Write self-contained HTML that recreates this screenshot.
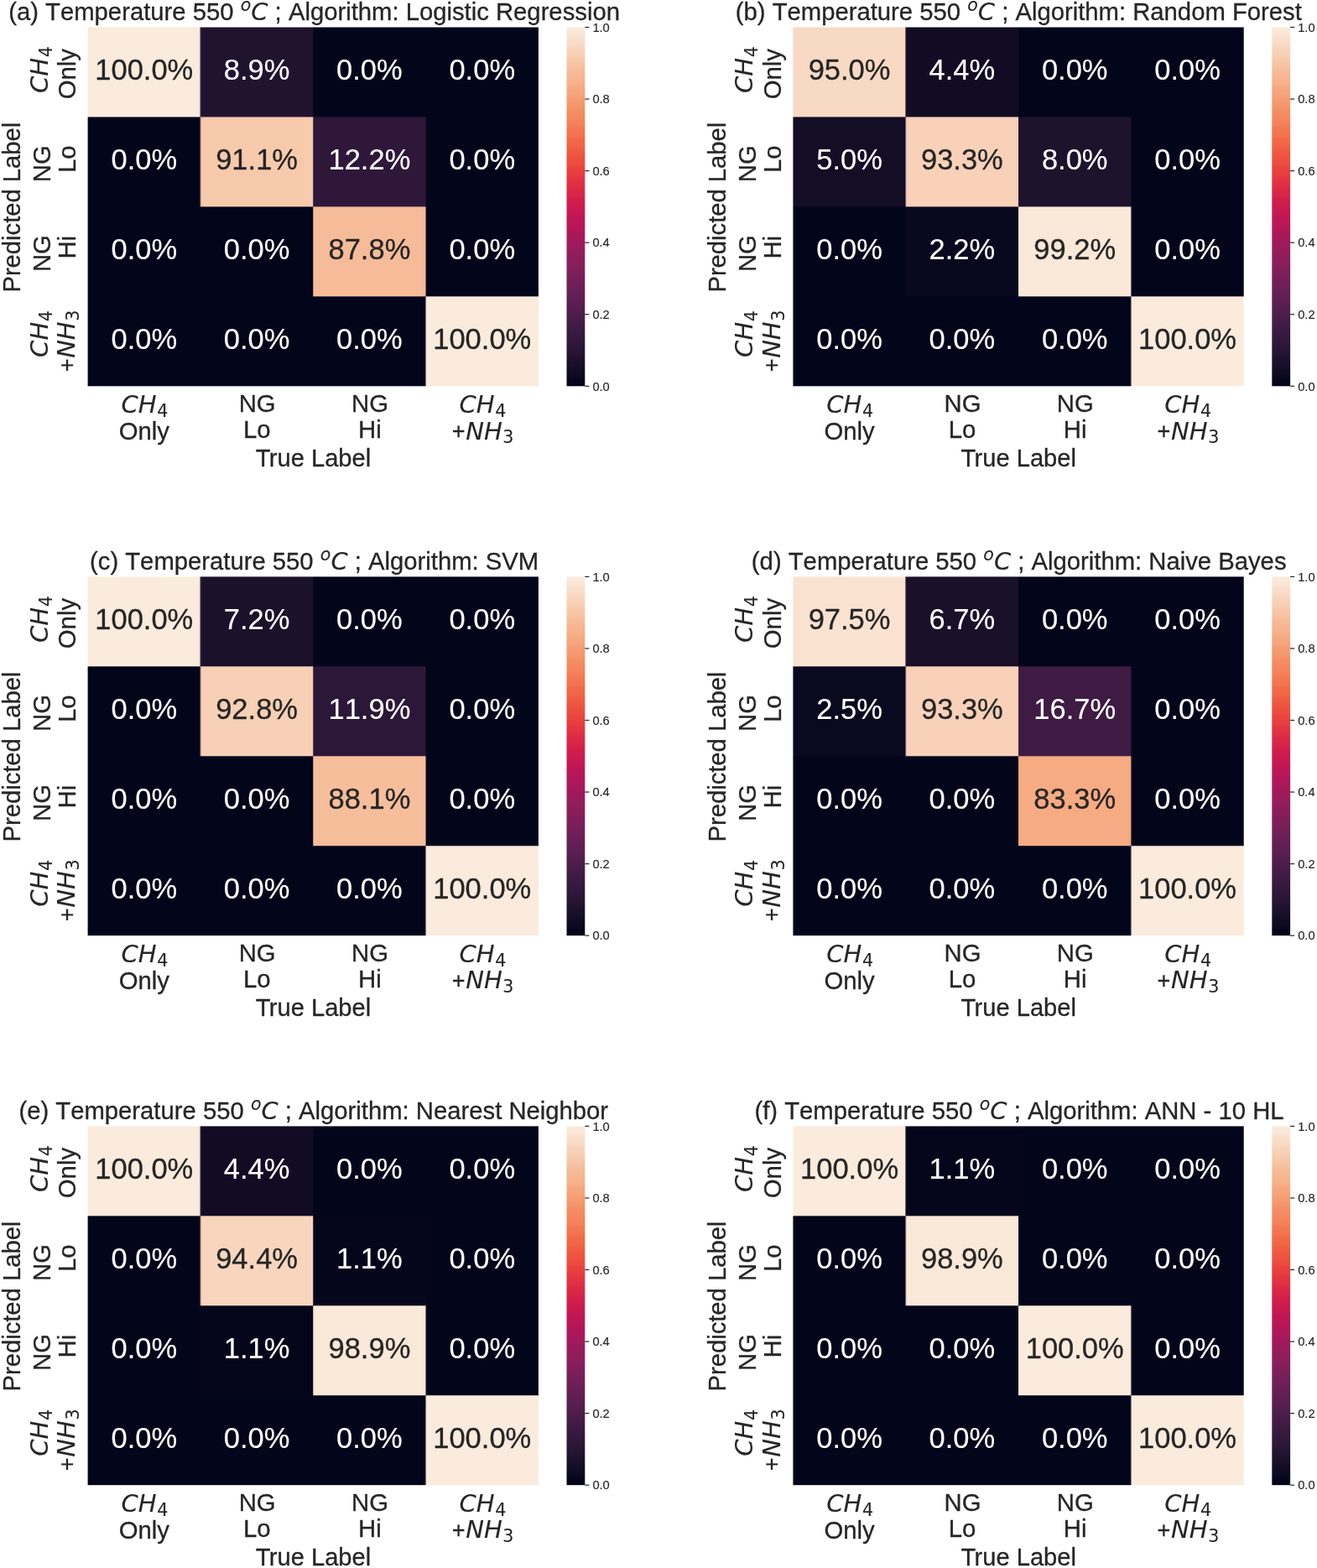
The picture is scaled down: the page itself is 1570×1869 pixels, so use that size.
<!DOCTYPE html>
<html lang="en"><head><meta charset="utf-8"><title>Confusion matrices - Temperature 550 C</title>
<style>
html,body{margin:0;padding:0;background:#fff}
body{width:1570px;height:1869px;overflow:hidden}
svg{display:block}
text{fill:#262626;stroke:#262626;stroke-width:0.3px;stroke-linejoin:round;white-space:pre;font-kerning:none}
.w{fill:#fff;stroke:#fff;stroke-width:0.12px}
.t{stroke-width:0.15px}
.mi,.mr{stroke-width:0.1px}
.a{font-family:"Liberation Sans",Arial,Helvetica,sans-serif}
.mi{font-family:"DejaVu Sans","Liberation Sans",sans-serif;font-style:italic}
.mr{font-family:"DejaVu Sans","Liberation Sans",sans-serif}
</style></head><body>
<svg width="1570" height="1869" viewBox="0 0 1570 1869" xml:space="preserve">
<rect width="1570" height="1869" fill="#ffffff"/>
<defs><linearGradient id="rk" x1="0" y1="0" x2="0" y2="1"><stop offset="0" stop-color="#faebdd"/><stop offset="0.02" stop-color="#fae6d6"/><stop offset="0.03" stop-color="#f9e0cd"/><stop offset="0.05" stop-color="#f8dac5"/><stop offset="0.06" stop-color="#f8d4bc"/><stop offset="0.08" stop-color="#f7cfb3"/><stop offset="0.09" stop-color="#f7c9aa"/><stop offset="0.11" stop-color="#f7c2a2"/><stop offset="0.12" stop-color="#f6bc99"/><stop offset="0.14" stop-color="#f6b691"/><stop offset="0.16" stop-color="#f6b089"/><stop offset="0.17" stop-color="#f6a981"/><stop offset="0.19" stop-color="#f6a37a"/><stop offset="0.2" stop-color="#f69c73"/><stop offset="0.22" stop-color="#f5966c"/><stop offset="0.23" stop-color="#f58f66"/><stop offset="0.25" stop-color="#f58860"/><stop offset="0.27" stop-color="#f4815a"/><stop offset="0.28" stop-color="#f47a54"/><stop offset="0.3" stop-color="#f3734e"/><stop offset="0.31" stop-color="#f26b49"/><stop offset="0.33" stop-color="#f16445"/><stop offset="0.34" stop-color="#f05c42"/><stop offset="0.36" stop-color="#ee543f"/><stop offset="0.38" stop-color="#ec4c3e"/><stop offset="0.39" stop-color="#ea443e"/><stop offset="0.41" stop-color="#e73d3f"/><stop offset="0.42" stop-color="#e33641"/><stop offset="0.44" stop-color="#df2f44"/><stop offset="0.45" stop-color="#db2946"/><stop offset="0.47" stop-color="#d62449"/><stop offset="0.48" stop-color="#d11f4c"/><stop offset="0.5" stop-color="#cb1b4f"/><stop offset="0.52" stop-color="#c51852"/><stop offset="0.53" stop-color="#bf1654"/><stop offset="0.55" stop-color="#b91657"/><stop offset="0.56" stop-color="#b21758"/><stop offset="0.58" stop-color="#ab185a"/><stop offset="0.59" stop-color="#a4195b"/><stop offset="0.61" stop-color="#9e1a5b"/><stop offset="0.62" stop-color="#971c5b"/><stop offset="0.64" stop-color="#901d5b"/><stop offset="0.66" stop-color="#891e5b"/><stop offset="0.67" stop-color="#821e5a"/><stop offset="0.69" stop-color="#7b1f59"/><stop offset="0.7" stop-color="#751f58"/><stop offset="0.72" stop-color="#6e1f57"/><stop offset="0.73" stop-color="#681f55"/><stop offset="0.75" stop-color="#611f53"/><stop offset="0.77" stop-color="#5b1e51"/><stop offset="0.78" stop-color="#541e4e"/><stop offset="0.8" stop-color="#4e1d4b"/><stop offset="0.81" stop-color="#481c48"/><stop offset="0.83" stop-color="#421b45"/><stop offset="0.84" stop-color="#3c1a42"/><stop offset="0.86" stop-color="#35193e"/><stop offset="0.88" stop-color="#30173a"/><stop offset="0.89" stop-color="#2a1636"/><stop offset="0.91" stop-color="#241432"/><stop offset="0.92" stop-color="#1e122d"/><stop offset="0.94" stop-color="#180f29"/><stop offset="0.95" stop-color="#130d25"/><stop offset="0.97" stop-color="#0d0a21"/><stop offset="0.98" stop-color="#07071d"/><stop offset="1" stop-color="#03051a"/></linearGradient></defs>
<g><pattern id="p1" patternUnits="userSpaceOnUse" x="96.6" y="24.5" width="553.3" height="443.8"><rect width="553.3" height="443.8" fill="#03051a"/><rect x="0" y="0" width="142.32" height="114.95" fill="#faebdd"/><rect x="142.32" y="0" width="134.32" height="114.95" fill="#211330"/><rect x="142.32" y="114.95" width="134.32" height="106.95" fill="#f7caac"/><rect x="276.65" y="114.95" width="134.32" height="106.95" fill="#2e1739"/><rect x="276.65" y="221.9" width="134.32" height="106.95" fill="#f6bc99"/><rect x="410.97" y="328.85" width="142.32" height="114.95" fill="#faebdd"/></pattern><rect x="104.6" y="32.5" width="537.3" height="427.8" fill="url(#p1)"/><text class="a" text-anchor="middle" transform="translate(171.76 94.97) scale(1.0 1.04)" font-size="34.5">100.0%</text><text class="a w" text-anchor="middle" transform="translate(306.09 94.97) scale(1.0 1.04)" font-size="34.5">8.9%</text><text class="a w" text-anchor="middle" transform="translate(440.41 94.97) scale(1.0 1.04)" font-size="34.5">0.0%</text><text class="a w" text-anchor="middle" transform="translate(574.74 94.97) scale(1.0 1.04)" font-size="34.5">0.0%</text><text class="a w" text-anchor="middle" transform="translate(171.76 201.93) scale(1.0 1.04)" font-size="34.5">0.0%</text><text class="a" text-anchor="middle" transform="translate(306.09 201.93) scale(1.0 1.04)" font-size="34.5">91.1%</text><text class="a w" text-anchor="middle" transform="translate(440.41 201.93) scale(1.0 1.04)" font-size="34.5">12.2%</text><text class="a w" text-anchor="middle" transform="translate(574.74 201.93) scale(1.0 1.04)" font-size="34.5">0.0%</text><text class="a w" text-anchor="middle" transform="translate(171.76 308.88) scale(1.0 1.04)" font-size="34.5">0.0%</text><text class="a w" text-anchor="middle" transform="translate(306.09 308.88) scale(1.0 1.04)" font-size="34.5">0.0%</text><text class="a" text-anchor="middle" transform="translate(440.41 308.88) scale(1.0 1.04)" font-size="34.5">87.8%</text><text class="a w" text-anchor="middle" transform="translate(574.74 308.88) scale(1.0 1.04)" font-size="34.5">0.0%</text><text class="a w" text-anchor="middle" transform="translate(171.76 415.82) scale(1.0 1.04)" font-size="34.5">0.0%</text><text class="a w" text-anchor="middle" transform="translate(306.09 415.82) scale(1.0 1.04)" font-size="34.5">0.0%</text><text class="a w" text-anchor="middle" transform="translate(440.41 415.82) scale(1.0 1.04)" font-size="34.5">0.0%</text><text class="a" text-anchor="middle" transform="translate(574.74 415.82) scale(1.0 1.04)" font-size="34.5">100.0%</text><rect x="675.5" y="32.5" width="21.8" height="427.8" fill="url(#rk)"/><rect x="697.3" y="459.7" width="5.1" height="1.2" fill="#262626"/><text class="a t" transform="translate(706.4 465.5) scale(1.0 1.04)" font-size="14.67">0.0</text><rect x="697.3" y="374.14" width="5.1" height="1.2" fill="#262626"/><text class="a t" transform="translate(706.4 379.94) scale(1.0 1.04)" font-size="14.67">0.2</text><rect x="697.3" y="288.58" width="5.1" height="1.2" fill="#262626"/><text class="a t" transform="translate(706.4 294.38) scale(1.0 1.04)" font-size="14.67">0.4</text><rect x="697.3" y="203.02" width="5.1" height="1.2" fill="#262626"/><text class="a t" transform="translate(706.4 208.82) scale(1.0 1.04)" font-size="14.67">0.6</text><rect x="697.3" y="117.46" width="5.1" height="1.2" fill="#262626"/><text class="a t" transform="translate(706.4 123.26) scale(1.0 1.04)" font-size="14.67">0.8</text><rect x="697.3" y="31.9" width="5.1" height="1.2" fill="#262626"/><text class="a t" transform="translate(706.4 37.7) scale(1.0 1.04)" font-size="14.67">1.0</text><text transform="translate(10.23 23.9)"><tspan class="a" x="0" y="0" font-size="29.26">(a) Temperature 550 </tspan><tspan class="mi" x="276.47" y="-10.6" font-size="20.57">o</tspan><tspan class="mi" x="289.05" y="0" font-size="28.97">C</tspan><tspan class="a" x="309.28" y="0" font-size="29.26"> ; Algorithm: Logistic Regression</tspan></text><text transform="translate(144.52 492.1)"><tspan class="mi" x="0" y="0" font-size="29.04">CH</tspan><tspan class="mr" x="42.71" y="4.5" font-size="20.62">4</tspan></text><text class="a" x="141.64" y="523.8" font-size="29.33">Only</text><text class="a" transform="translate(284.68 491.4) scale(1 1.03)" font-size="29.33">NG</text><text class="a" x="289.89" y="522.2" font-size="29.33">Lo</text><text class="a" transform="translate(419.01 491.4) scale(1 1.03)" font-size="29.33">NG</text><text class="a" x="427.05" y="522.2" font-size="29.33">Hi</text><text transform="translate(547.49 492.1)"><tspan class="mi" x="0" y="0" font-size="29.04">CH</tspan><tspan class="mr" x="42.71" y="4.5" font-size="20.62">4</tspan></text><text transform="translate(537.48 523.5)"><tspan class="a" x="1.25" y="-0.3" font-size="26.98">+</tspan><tspan class="mi" x="17.73" y="0" font-size="29.04">NH</tspan><tspan class="mr" x="61.88" y="4.5" font-size="20.62">3</tspan></text><text transform="translate(304.64 556.2)"><tspan class="a" x="0" y="0" font-size="29.1">T</tspan><tspan class="a" x="16.18" y="0" font-size="29.1">rue Label</tspan></text><g transform="translate(104.6 85.97) rotate(-90)"><text transform="translate(-25.07 -48)"><tspan class="mi" x="0" y="0" font-size="29.04">CH</tspan><tspan class="mr" x="42.71" y="5.5" font-size="20.62">4</tspan></text><text class="a" x="-32.35" y="-14.6" font-size="29.33">Only</text></g><g transform="translate(104.6 192.93) rotate(-90)"><text class="a" transform="translate(-24.2 -44.4) scale(1 1.03)" font-size="29.33">NG</text><text class="a" x="-13.19" y="-14.6" font-size="29.33">Lo</text></g><g transform="translate(104.6 299.88) rotate(-90)"><text class="a" transform="translate(-24.2 -44.4) scale(1 1.03)" font-size="29.33">NG</text><text class="a" x="-8.72" y="-14.6" font-size="29.33">Hi</text></g><g transform="translate(104.6 406.82) rotate(-90)"><text transform="translate(-19.07 -48)"><tspan class="mi" x="0" y="0" font-size="29.04">CH</tspan><tspan class="mr" x="42.71" y="5.5" font-size="20.62">4</tspan></text><text transform="translate(-37.75 -15.7)"><tspan class="a" x="1.25" y="-0.3" font-size="26.98">+</tspan><tspan class="mi" x="17.73" y="0" font-size="29.04">NH</tspan><tspan class="mr" x="61.88" y="5.5" font-size="20.62">3</tspan></text></g><g transform="translate(104.6 246.9) rotate(-90)"><text class="a" x="-101.68" y="-80.4" font-size="29.2">Predicted Label</text></g></g>
<g><pattern id="p2" patternUnits="userSpaceOnUse" x="937.4" y="24.5" width="553.3" height="443.8"><rect width="553.3" height="443.8" fill="#03051a"/><rect x="0" y="0" width="142.32" height="114.95" fill="#f8d9c3"/><rect x="142.32" y="0" width="134.32" height="114.95" fill="#110c24"/><rect x="0" y="114.95" width="142.32" height="106.95" fill="#130d25"/><rect x="142.32" y="114.95" width="134.32" height="106.95" fill="#f8d1b8"/><rect x="276.65" y="114.95" width="134.32" height="106.95" fill="#1e122d"/><rect x="142.32" y="221.9" width="134.32" height="106.95" fill="#08081e"/><rect x="276.65" y="221.9" width="134.32" height="106.95" fill="#fae8d8"/><rect x="410.97" y="328.85" width="142.32" height="114.95" fill="#faebdd"/></pattern><rect x="945.4" y="32.5" width="537.3" height="427.8" fill="url(#p2)"/><text class="a" text-anchor="middle" transform="translate(1012.56 94.97) scale(1.0 1.04)" font-size="34.5">95.0%</text><text class="a w" text-anchor="middle" transform="translate(1146.89 94.97) scale(1.0 1.04)" font-size="34.5">4.4%</text><text class="a w" text-anchor="middle" transform="translate(1281.21 94.97) scale(1.0 1.04)" font-size="34.5">0.0%</text><text class="a w" text-anchor="middle" transform="translate(1415.54 94.97) scale(1.0 1.04)" font-size="34.5">0.0%</text><text class="a w" text-anchor="middle" transform="translate(1012.56 201.93) scale(1.0 1.04)" font-size="34.5">5.0%</text><text class="a" text-anchor="middle" transform="translate(1146.89 201.93) scale(1.0 1.04)" font-size="34.5">93.3%</text><text class="a w" text-anchor="middle" transform="translate(1281.21 201.93) scale(1.0 1.04)" font-size="34.5">8.0%</text><text class="a w" text-anchor="middle" transform="translate(1415.54 201.93) scale(1.0 1.04)" font-size="34.5">0.0%</text><text class="a w" text-anchor="middle" transform="translate(1012.56 308.88) scale(1.0 1.04)" font-size="34.5">0.0%</text><text class="a w" text-anchor="middle" transform="translate(1146.89 308.88) scale(1.0 1.04)" font-size="34.5">2.2%</text><text class="a" text-anchor="middle" transform="translate(1281.21 308.88) scale(1.0 1.04)" font-size="34.5">99.2%</text><text class="a w" text-anchor="middle" transform="translate(1415.54 308.88) scale(1.0 1.04)" font-size="34.5">0.0%</text><text class="a w" text-anchor="middle" transform="translate(1012.56 415.82) scale(1.0 1.04)" font-size="34.5">0.0%</text><text class="a w" text-anchor="middle" transform="translate(1146.89 415.82) scale(1.0 1.04)" font-size="34.5">0.0%</text><text class="a w" text-anchor="middle" transform="translate(1281.21 415.82) scale(1.0 1.04)" font-size="34.5">0.0%</text><text class="a" text-anchor="middle" transform="translate(1415.54 415.82) scale(1.0 1.04)" font-size="34.5">100.0%</text><rect x="1516.3" y="32.5" width="21.8" height="427.8" fill="url(#rk)"/><rect x="1538.1" y="459.7" width="5.1" height="1.2" fill="#262626"/><text class="a t" transform="translate(1547.2 465.5) scale(1.0 1.04)" font-size="14.67">0.0</text><rect x="1538.1" y="374.14" width="5.1" height="1.2" fill="#262626"/><text class="a t" transform="translate(1547.2 379.94) scale(1.0 1.04)" font-size="14.67">0.2</text><rect x="1538.1" y="288.58" width="5.1" height="1.2" fill="#262626"/><text class="a t" transform="translate(1547.2 294.38) scale(1.0 1.04)" font-size="14.67">0.4</text><rect x="1538.1" y="203.02" width="5.1" height="1.2" fill="#262626"/><text class="a t" transform="translate(1547.2 208.82) scale(1.0 1.04)" font-size="14.67">0.6</text><rect x="1538.1" y="117.46" width="5.1" height="1.2" fill="#262626"/><text class="a t" transform="translate(1547.2 123.26) scale(1.0 1.04)" font-size="14.67">0.8</text><rect x="1538.1" y="31.9" width="5.1" height="1.2" fill="#262626"/><text class="a t" transform="translate(1547.2 37.7) scale(1.0 1.04)" font-size="14.67">1.0</text><text transform="translate(876.77 23.9)"><tspan class="a" x="0" y="0" font-size="29.26">(b) Temperature 550 </tspan><tspan class="mi" x="276.47" y="-10.6" font-size="20.57">o</tspan><tspan class="mi" x="289.05" y="0" font-size="28.97">C</tspan><tspan class="a" x="309.28" y="0" font-size="29.26"> ; Algorithm: Random Forest</tspan></text><text transform="translate(985.32 492.1)"><tspan class="mi" x="0" y="0" font-size="29.04">CH</tspan><tspan class="mr" x="42.71" y="4.5" font-size="20.62">4</tspan></text><text class="a" x="982.44" y="523.8" font-size="29.33">Only</text><text class="a" transform="translate(1125.48 491.4) scale(1 1.03)" font-size="29.33">NG</text><text class="a" x="1130.69" y="522.2" font-size="29.33">Lo</text><text class="a" transform="translate(1259.81 491.4) scale(1 1.03)" font-size="29.33">NG</text><text class="a" x="1267.85" y="522.2" font-size="29.33">Hi</text><text transform="translate(1388.29 492.1)"><tspan class="mi" x="0" y="0" font-size="29.04">CH</tspan><tspan class="mr" x="42.71" y="4.5" font-size="20.62">4</tspan></text><text transform="translate(1378.28 523.5)"><tspan class="a" x="1.25" y="-0.3" font-size="26.98">+</tspan><tspan class="mi" x="17.73" y="0" font-size="29.04">NH</tspan><tspan class="mr" x="61.88" y="4.5" font-size="20.62">3</tspan></text><text transform="translate(1145.44 556.2)"><tspan class="a" x="0" y="0" font-size="29.1">T</tspan><tspan class="a" x="16.18" y="0" font-size="29.1">rue Label</tspan></text><g transform="translate(945.4 85.97) rotate(-90)"><text transform="translate(-25.07 -48)"><tspan class="mi" x="0" y="0" font-size="29.04">CH</tspan><tspan class="mr" x="42.71" y="5.5" font-size="20.62">4</tspan></text><text class="a" x="-32.35" y="-14.6" font-size="29.33">Only</text></g><g transform="translate(945.4 192.93) rotate(-90)"><text class="a" transform="translate(-24.2 -44.4) scale(1 1.03)" font-size="29.33">NG</text><text class="a" x="-13.19" y="-14.6" font-size="29.33">Lo</text></g><g transform="translate(945.4 299.88) rotate(-90)"><text class="a" transform="translate(-24.2 -44.4) scale(1 1.03)" font-size="29.33">NG</text><text class="a" x="-8.72" y="-14.6" font-size="29.33">Hi</text></g><g transform="translate(945.4 406.82) rotate(-90)"><text transform="translate(-19.07 -48)"><tspan class="mi" x="0" y="0" font-size="29.04">CH</tspan><tspan class="mr" x="42.71" y="5.5" font-size="20.62">4</tspan></text><text transform="translate(-37.75 -15.7)"><tspan class="a" x="1.25" y="-0.3" font-size="26.98">+</tspan><tspan class="mi" x="17.73" y="0" font-size="29.04">NH</tspan><tspan class="mr" x="61.88" y="5.5" font-size="20.62">3</tspan></text></g><g transform="translate(945.4 246.9) rotate(-90)"><text class="a" x="-101.68" y="-80.4" font-size="29.2">Predicted Label</text></g></g>
<g><pattern id="p3" patternUnits="userSpaceOnUse" x="96.6" y="679.4" width="553.3" height="443.8"><rect width="553.3" height="443.8" fill="#03051a"/><rect x="0" y="0" width="142.32" height="114.95" fill="#faebdd"/><rect x="142.32" y="0" width="134.32" height="114.95" fill="#1b112b"/><rect x="142.32" y="114.95" width="134.32" height="106.95" fill="#f7d0b5"/><rect x="276.65" y="114.95" width="134.32" height="106.95" fill="#2d1738"/><rect x="276.65" y="221.9" width="134.32" height="106.95" fill="#f6be9b"/><rect x="410.97" y="328.85" width="142.32" height="114.95" fill="#faebdd"/></pattern><rect x="104.6" y="687.4" width="537.3" height="427.8" fill="url(#p3)"/><text class="a" text-anchor="middle" transform="translate(171.76 749.88) scale(1.0 1.04)" font-size="34.5">100.0%</text><text class="a w" text-anchor="middle" transform="translate(306.09 749.88) scale(1.0 1.04)" font-size="34.5">7.2%</text><text class="a w" text-anchor="middle" transform="translate(440.41 749.88) scale(1.0 1.04)" font-size="34.5">0.0%</text><text class="a w" text-anchor="middle" transform="translate(574.74 749.88) scale(1.0 1.04)" font-size="34.5">0.0%</text><text class="a w" text-anchor="middle" transform="translate(171.76 856.83) scale(1.0 1.04)" font-size="34.5">0.0%</text><text class="a" text-anchor="middle" transform="translate(306.09 856.83) scale(1.0 1.04)" font-size="34.5">92.8%</text><text class="a w" text-anchor="middle" transform="translate(440.41 856.83) scale(1.0 1.04)" font-size="34.5">11.9%</text><text class="a w" text-anchor="middle" transform="translate(574.74 856.83) scale(1.0 1.04)" font-size="34.5">0.0%</text><text class="a w" text-anchor="middle" transform="translate(171.76 963.77) scale(1.0 1.04)" font-size="34.5">0.0%</text><text class="a w" text-anchor="middle" transform="translate(306.09 963.77) scale(1.0 1.04)" font-size="34.5">0.0%</text><text class="a" text-anchor="middle" transform="translate(440.41 963.77) scale(1.0 1.04)" font-size="34.5">88.1%</text><text class="a w" text-anchor="middle" transform="translate(574.74 963.77) scale(1.0 1.04)" font-size="34.5">0.0%</text><text class="a w" text-anchor="middle" transform="translate(171.76 1070.72) scale(1.0 1.04)" font-size="34.5">0.0%</text><text class="a w" text-anchor="middle" transform="translate(306.09 1070.72) scale(1.0 1.04)" font-size="34.5">0.0%</text><text class="a w" text-anchor="middle" transform="translate(440.41 1070.72) scale(1.0 1.04)" font-size="34.5">0.0%</text><text class="a" text-anchor="middle" transform="translate(574.74 1070.72) scale(1.0 1.04)" font-size="34.5">100.0%</text><rect x="675.5" y="687.4" width="21.8" height="427.8" fill="url(#rk)"/><rect x="697.3" y="1114.6" width="5.1" height="1.2" fill="#262626"/><text class="a t" transform="translate(706.4 1120.4) scale(1.0 1.04)" font-size="14.67">0.0</text><rect x="697.3" y="1029.04" width="5.1" height="1.2" fill="#262626"/><text class="a t" transform="translate(706.4 1034.84) scale(1.0 1.04)" font-size="14.67">0.2</text><rect x="697.3" y="943.48" width="5.1" height="1.2" fill="#262626"/><text class="a t" transform="translate(706.4 949.28) scale(1.0 1.04)" font-size="14.67">0.4</text><rect x="697.3" y="857.92" width="5.1" height="1.2" fill="#262626"/><text class="a t" transform="translate(706.4 863.72) scale(1.0 1.04)" font-size="14.67">0.6</text><rect x="697.3" y="772.36" width="5.1" height="1.2" fill="#262626"/><text class="a t" transform="translate(706.4 778.16) scale(1.0 1.04)" font-size="14.67">0.8</text><rect x="697.3" y="686.8" width="5.1" height="1.2" fill="#262626"/><text class="a t" transform="translate(706.4 692.6) scale(1.0 1.04)" font-size="14.67">1.0</text><text transform="translate(107.01 678.8)"><tspan class="a" x="0" y="0" font-size="29.26">(c) Temperature 550 </tspan><tspan class="mi" x="274.83" y="-10.6" font-size="20.57">o</tspan><tspan class="mi" x="287.41" y="0" font-size="28.97">C</tspan><tspan class="a" x="307.64" y="0" font-size="29.26"> ; Algorithm: SVM</tspan></text><text transform="translate(144.52 1147)"><tspan class="mi" x="0" y="0" font-size="29.04">CH</tspan><tspan class="mr" x="42.71" y="4.5" font-size="20.62">4</tspan></text><text class="a" x="141.64" y="1178.7" font-size="29.33">Only</text><text class="a" transform="translate(284.68 1146.3) scale(1 1.03)" font-size="29.33">NG</text><text class="a" x="289.89" y="1177.1" font-size="29.33">Lo</text><text class="a" transform="translate(419.01 1146.3) scale(1 1.03)" font-size="29.33">NG</text><text class="a" x="427.05" y="1177.1" font-size="29.33">Hi</text><text transform="translate(547.49 1147)"><tspan class="mi" x="0" y="0" font-size="29.04">CH</tspan><tspan class="mr" x="42.71" y="4.5" font-size="20.62">4</tspan></text><text transform="translate(537.48 1178.4)"><tspan class="a" x="1.25" y="-0.3" font-size="26.98">+</tspan><tspan class="mi" x="17.73" y="0" font-size="29.04">NH</tspan><tspan class="mr" x="61.88" y="4.5" font-size="20.62">3</tspan></text><text transform="translate(304.64 1211.1)"><tspan class="a" x="0" y="0" font-size="29.1">T</tspan><tspan class="a" x="16.18" y="0" font-size="29.1">rue Label</tspan></text><g transform="translate(104.6 740.88) rotate(-90)"><text transform="translate(-25.07 -48)"><tspan class="mi" x="0" y="0" font-size="29.04">CH</tspan><tspan class="mr" x="42.71" y="5.5" font-size="20.62">4</tspan></text><text class="a" x="-32.35" y="-14.6" font-size="29.33">Only</text></g><g transform="translate(104.6 847.83) rotate(-90)"><text class="a" transform="translate(-24.2 -44.4) scale(1 1.03)" font-size="29.33">NG</text><text class="a" x="-13.19" y="-14.6" font-size="29.33">Lo</text></g><g transform="translate(104.6 954.77) rotate(-90)"><text class="a" transform="translate(-24.2 -44.4) scale(1 1.03)" font-size="29.33">NG</text><text class="a" x="-8.72" y="-14.6" font-size="29.33">Hi</text></g><g transform="translate(104.6 1061.72) rotate(-90)"><text transform="translate(-19.07 -48)"><tspan class="mi" x="0" y="0" font-size="29.04">CH</tspan><tspan class="mr" x="42.71" y="5.5" font-size="20.62">4</tspan></text><text transform="translate(-37.75 -15.7)"><tspan class="a" x="1.25" y="-0.3" font-size="26.98">+</tspan><tspan class="mi" x="17.73" y="0" font-size="29.04">NH</tspan><tspan class="mr" x="61.88" y="5.5" font-size="20.62">3</tspan></text></g><g transform="translate(104.6 901.8) rotate(-90)"><text class="a" x="-101.68" y="-80.4" font-size="29.2">Predicted Label</text></g></g>
<g><pattern id="p4" patternUnits="userSpaceOnUse" x="937.4" y="679.4" width="553.3" height="443.8"><rect width="553.3" height="443.8" fill="#03051a"/><rect x="0" y="0" width="142.32" height="114.95" fill="#f9e2d0"/><rect x="142.32" y="0" width="134.32" height="114.95" fill="#1a102a"/><rect x="0" y="114.95" width="142.32" height="106.95" fill="#0a091f"/><rect x="142.32" y="114.95" width="134.32" height="106.95" fill="#f8d1b8"/><rect x="276.65" y="114.95" width="134.32" height="106.95" fill="#3f1b43"/><rect x="276.65" y="221.9" width="134.32" height="106.95" fill="#f6ab83"/><rect x="410.97" y="328.85" width="142.32" height="114.95" fill="#faebdd"/></pattern><rect x="945.4" y="687.4" width="537.3" height="427.8" fill="url(#p4)"/><text class="a" text-anchor="middle" transform="translate(1012.56 749.88) scale(1.0 1.04)" font-size="34.5">97.5%</text><text class="a w" text-anchor="middle" transform="translate(1146.89 749.88) scale(1.0 1.04)" font-size="34.5">6.7%</text><text class="a w" text-anchor="middle" transform="translate(1281.21 749.88) scale(1.0 1.04)" font-size="34.5">0.0%</text><text class="a w" text-anchor="middle" transform="translate(1415.54 749.88) scale(1.0 1.04)" font-size="34.5">0.0%</text><text class="a w" text-anchor="middle" transform="translate(1012.56 856.83) scale(1.0 1.04)" font-size="34.5">2.5%</text><text class="a" text-anchor="middle" transform="translate(1146.89 856.83) scale(1.0 1.04)" font-size="34.5">93.3%</text><text class="a w" text-anchor="middle" transform="translate(1281.21 856.83) scale(1.0 1.04)" font-size="34.5">16.7%</text><text class="a w" text-anchor="middle" transform="translate(1415.54 856.83) scale(1.0 1.04)" font-size="34.5">0.0%</text><text class="a w" text-anchor="middle" transform="translate(1012.56 963.77) scale(1.0 1.04)" font-size="34.5">0.0%</text><text class="a w" text-anchor="middle" transform="translate(1146.89 963.77) scale(1.0 1.04)" font-size="34.5">0.0%</text><text class="a" text-anchor="middle" transform="translate(1281.21 963.77) scale(1.0 1.04)" font-size="34.5">83.3%</text><text class="a w" text-anchor="middle" transform="translate(1415.54 963.77) scale(1.0 1.04)" font-size="34.5">0.0%</text><text class="a w" text-anchor="middle" transform="translate(1012.56 1070.72) scale(1.0 1.04)" font-size="34.5">0.0%</text><text class="a w" text-anchor="middle" transform="translate(1146.89 1070.72) scale(1.0 1.04)" font-size="34.5">0.0%</text><text class="a w" text-anchor="middle" transform="translate(1281.21 1070.72) scale(1.0 1.04)" font-size="34.5">0.0%</text><text class="a" text-anchor="middle" transform="translate(1415.54 1070.72) scale(1.0 1.04)" font-size="34.5">100.0%</text><rect x="1516.3" y="687.4" width="21.8" height="427.8" fill="url(#rk)"/><rect x="1538.1" y="1114.6" width="5.1" height="1.2" fill="#262626"/><text class="a t" transform="translate(1547.2 1120.4) scale(1.0 1.04)" font-size="14.67">0.0</text><rect x="1538.1" y="1029.04" width="5.1" height="1.2" fill="#262626"/><text class="a t" transform="translate(1547.2 1034.84) scale(1.0 1.04)" font-size="14.67">0.2</text><rect x="1538.1" y="943.48" width="5.1" height="1.2" fill="#262626"/><text class="a t" transform="translate(1547.2 949.28) scale(1.0 1.04)" font-size="14.67">0.4</text><rect x="1538.1" y="857.92" width="5.1" height="1.2" fill="#262626"/><text class="a t" transform="translate(1547.2 863.72) scale(1.0 1.04)" font-size="14.67">0.6</text><rect x="1538.1" y="772.36" width="5.1" height="1.2" fill="#262626"/><text class="a t" transform="translate(1547.2 778.16) scale(1.0 1.04)" font-size="14.67">0.8</text><rect x="1538.1" y="686.8" width="5.1" height="1.2" fill="#262626"/><text class="a t" transform="translate(1547.2 692.6) scale(1.0 1.04)" font-size="14.67">1.0</text><text transform="translate(895.87 678.8)"><tspan class="a" x="0" y="0" font-size="29.26">(d) Temperature 550 </tspan><tspan class="mi" x="276.47" y="-10.6" font-size="20.57">o</tspan><tspan class="mi" x="289.05" y="0" font-size="28.97">C</tspan><tspan class="a" x="309.28" y="0" font-size="29.26"> ; Algorithm: Naive Bayes</tspan></text><text transform="translate(985.32 1147)"><tspan class="mi" x="0" y="0" font-size="29.04">CH</tspan><tspan class="mr" x="42.71" y="4.5" font-size="20.62">4</tspan></text><text class="a" x="982.44" y="1178.7" font-size="29.33">Only</text><text class="a" transform="translate(1125.48 1146.3) scale(1 1.03)" font-size="29.33">NG</text><text class="a" x="1130.69" y="1177.1" font-size="29.33">Lo</text><text class="a" transform="translate(1259.81 1146.3) scale(1 1.03)" font-size="29.33">NG</text><text class="a" x="1267.85" y="1177.1" font-size="29.33">Hi</text><text transform="translate(1388.29 1147)"><tspan class="mi" x="0" y="0" font-size="29.04">CH</tspan><tspan class="mr" x="42.71" y="4.5" font-size="20.62">4</tspan></text><text transform="translate(1378.28 1178.4)"><tspan class="a" x="1.25" y="-0.3" font-size="26.98">+</tspan><tspan class="mi" x="17.73" y="0" font-size="29.04">NH</tspan><tspan class="mr" x="61.88" y="4.5" font-size="20.62">3</tspan></text><text transform="translate(1145.44 1211.1)"><tspan class="a" x="0" y="0" font-size="29.1">T</tspan><tspan class="a" x="16.18" y="0" font-size="29.1">rue Label</tspan></text><g transform="translate(945.4 740.88) rotate(-90)"><text transform="translate(-25.07 -48)"><tspan class="mi" x="0" y="0" font-size="29.04">CH</tspan><tspan class="mr" x="42.71" y="5.5" font-size="20.62">4</tspan></text><text class="a" x="-32.35" y="-14.6" font-size="29.33">Only</text></g><g transform="translate(945.4 847.83) rotate(-90)"><text class="a" transform="translate(-24.2 -44.4) scale(1 1.03)" font-size="29.33">NG</text><text class="a" x="-13.19" y="-14.6" font-size="29.33">Lo</text></g><g transform="translate(945.4 954.77) rotate(-90)"><text class="a" transform="translate(-24.2 -44.4) scale(1 1.03)" font-size="29.33">NG</text><text class="a" x="-8.72" y="-14.6" font-size="29.33">Hi</text></g><g transform="translate(945.4 1061.72) rotate(-90)"><text transform="translate(-19.07 -48)"><tspan class="mi" x="0" y="0" font-size="29.04">CH</tspan><tspan class="mr" x="42.71" y="5.5" font-size="20.62">4</tspan></text><text transform="translate(-37.75 -15.7)"><tspan class="a" x="1.25" y="-0.3" font-size="26.98">+</tspan><tspan class="mi" x="17.73" y="0" font-size="29.04">NH</tspan><tspan class="mr" x="61.88" y="5.5" font-size="20.62">3</tspan></text></g><g transform="translate(945.4 901.8) rotate(-90)"><text class="a" x="-101.68" y="-80.4" font-size="29.2">Predicted Label</text></g></g>
<g><pattern id="p5" patternUnits="userSpaceOnUse" x="96.6" y="1334.4" width="553.3" height="443.8"><rect width="553.3" height="443.8" fill="#03051a"/><rect x="0" y="0" width="142.32" height="114.95" fill="#faebdd"/><rect x="142.32" y="0" width="134.32" height="114.95" fill="#110c24"/><rect x="142.32" y="114.95" width="134.32" height="106.95" fill="#f8d6be"/><rect x="276.65" y="114.95" width="134.32" height="106.95" fill="#05061b"/><rect x="142.32" y="221.9" width="134.32" height="106.95" fill="#05061b"/><rect x="276.65" y="221.9" width="134.32" height="106.95" fill="#fae8d8"/><rect x="410.97" y="328.85" width="142.32" height="114.95" fill="#faebdd"/></pattern><rect x="104.6" y="1342.4" width="537.3" height="427.8" fill="url(#p5)"/><text class="a" text-anchor="middle" transform="translate(171.76 1404.88) scale(1.0 1.04)" font-size="34.5">100.0%</text><text class="a w" text-anchor="middle" transform="translate(306.09 1404.88) scale(1.0 1.04)" font-size="34.5">4.4%</text><text class="a w" text-anchor="middle" transform="translate(440.41 1404.88) scale(1.0 1.04)" font-size="34.5">0.0%</text><text class="a w" text-anchor="middle" transform="translate(574.74 1404.88) scale(1.0 1.04)" font-size="34.5">0.0%</text><text class="a w" text-anchor="middle" transform="translate(171.76 1511.83) scale(1.0 1.04)" font-size="34.5">0.0%</text><text class="a" text-anchor="middle" transform="translate(306.09 1511.83) scale(1.0 1.04)" font-size="34.5">94.4%</text><text class="a w" text-anchor="middle" transform="translate(440.41 1511.83) scale(1.0 1.04)" font-size="34.5">1.1%</text><text class="a w" text-anchor="middle" transform="translate(574.74 1511.83) scale(1.0 1.04)" font-size="34.5">0.0%</text><text class="a w" text-anchor="middle" transform="translate(171.76 1618.78) scale(1.0 1.04)" font-size="34.5">0.0%</text><text class="a w" text-anchor="middle" transform="translate(306.09 1618.78) scale(1.0 1.04)" font-size="34.5">1.1%</text><text class="a" text-anchor="middle" transform="translate(440.41 1618.78) scale(1.0 1.04)" font-size="34.5">98.9%</text><text class="a w" text-anchor="middle" transform="translate(574.74 1618.78) scale(1.0 1.04)" font-size="34.5">0.0%</text><text class="a w" text-anchor="middle" transform="translate(171.76 1725.73) scale(1.0 1.04)" font-size="34.5">0.0%</text><text class="a w" text-anchor="middle" transform="translate(306.09 1725.73) scale(1.0 1.04)" font-size="34.5">0.0%</text><text class="a w" text-anchor="middle" transform="translate(440.41 1725.73) scale(1.0 1.04)" font-size="34.5">0.0%</text><text class="a" text-anchor="middle" transform="translate(574.74 1725.73) scale(1.0 1.04)" font-size="34.5">100.0%</text><rect x="675.5" y="1342.4" width="21.8" height="427.8" fill="url(#rk)"/><rect x="697.3" y="1769.6" width="5.1" height="1.2" fill="#262626"/><text class="a t" transform="translate(706.4 1775.4) scale(1.0 1.04)" font-size="14.67">0.0</text><rect x="697.3" y="1684.04" width="5.1" height="1.2" fill="#262626"/><text class="a t" transform="translate(706.4 1689.84) scale(1.0 1.04)" font-size="14.67">0.2</text><rect x="697.3" y="1598.48" width="5.1" height="1.2" fill="#262626"/><text class="a t" transform="translate(706.4 1604.28) scale(1.0 1.04)" font-size="14.67">0.4</text><rect x="697.3" y="1512.92" width="5.1" height="1.2" fill="#262626"/><text class="a t" transform="translate(706.4 1518.72) scale(1.0 1.04)" font-size="14.67">0.6</text><rect x="697.3" y="1427.36" width="5.1" height="1.2" fill="#262626"/><text class="a t" transform="translate(706.4 1433.16) scale(1.0 1.04)" font-size="14.67">0.8</text><rect x="697.3" y="1341.8" width="5.1" height="1.2" fill="#262626"/><text class="a t" transform="translate(706.4 1347.6) scale(1.0 1.04)" font-size="14.67">1.0</text><text transform="translate(22.43 1333.8)"><tspan class="a" x="0" y="0" font-size="29.26">(e) Temperature 550 </tspan><tspan class="mi" x="276.47" y="-10.6" font-size="20.57">o</tspan><tspan class="mi" x="289.05" y="0" font-size="28.97">C</tspan><tspan class="a" x="309.28" y="0" font-size="29.26"> ; Algorithm: Nearest Neighbor</tspan></text><text transform="translate(144.52 1802)"><tspan class="mi" x="0" y="0" font-size="29.04">CH</tspan><tspan class="mr" x="42.71" y="4.5" font-size="20.62">4</tspan></text><text class="a" x="141.64" y="1833.7" font-size="29.33">Only</text><text class="a" transform="translate(284.68 1801.3) scale(1 1.03)" font-size="29.33">NG</text><text class="a" x="289.89" y="1832.1" font-size="29.33">Lo</text><text class="a" transform="translate(419.01 1801.3) scale(1 1.03)" font-size="29.33">NG</text><text class="a" x="427.05" y="1832.1" font-size="29.33">Hi</text><text transform="translate(547.49 1802)"><tspan class="mi" x="0" y="0" font-size="29.04">CH</tspan><tspan class="mr" x="42.71" y="4.5" font-size="20.62">4</tspan></text><text transform="translate(537.48 1833.4)"><tspan class="a" x="1.25" y="-0.3" font-size="26.98">+</tspan><tspan class="mi" x="17.73" y="0" font-size="29.04">NH</tspan><tspan class="mr" x="61.88" y="4.5" font-size="20.62">3</tspan></text><text transform="translate(304.64 1866.1)"><tspan class="a" x="0" y="0" font-size="29.1">T</tspan><tspan class="a" x="16.18" y="0" font-size="29.1">rue Label</tspan></text><g transform="translate(104.6 1395.88) rotate(-90)"><text transform="translate(-25.07 -48)"><tspan class="mi" x="0" y="0" font-size="29.04">CH</tspan><tspan class="mr" x="42.71" y="5.5" font-size="20.62">4</tspan></text><text class="a" x="-32.35" y="-14.6" font-size="29.33">Only</text></g><g transform="translate(104.6 1502.83) rotate(-90)"><text class="a" transform="translate(-24.2 -44.4) scale(1 1.03)" font-size="29.33">NG</text><text class="a" x="-13.19" y="-14.6" font-size="29.33">Lo</text></g><g transform="translate(104.6 1609.78) rotate(-90)"><text class="a" transform="translate(-24.2 -44.4) scale(1 1.03)" font-size="29.33">NG</text><text class="a" x="-8.72" y="-14.6" font-size="29.33">Hi</text></g><g transform="translate(104.6 1716.73) rotate(-90)"><text transform="translate(-19.07 -48)"><tspan class="mi" x="0" y="0" font-size="29.04">CH</tspan><tspan class="mr" x="42.71" y="5.5" font-size="20.62">4</tspan></text><text transform="translate(-37.75 -15.7)"><tspan class="a" x="1.25" y="-0.3" font-size="26.98">+</tspan><tspan class="mi" x="17.73" y="0" font-size="29.04">NH</tspan><tspan class="mr" x="61.88" y="5.5" font-size="20.62">3</tspan></text></g><g transform="translate(104.6 1556.8) rotate(-90)"><text class="a" x="-101.68" y="-80.4" font-size="29.2">Predicted Label</text></g></g>
<g><pattern id="p6" patternUnits="userSpaceOnUse" x="937.4" y="1334.4" width="553.3" height="443.8"><rect width="553.3" height="443.8" fill="#03051a"/><rect x="0" y="0" width="142.32" height="114.95" fill="#faebdd"/><rect x="142.32" y="0" width="134.32" height="114.95" fill="#05061b"/><rect x="142.32" y="114.95" width="134.32" height="106.95" fill="#fae8d8"/><rect x="276.65" y="221.9" width="134.32" height="106.95" fill="#faebdd"/><rect x="410.97" y="328.85" width="142.32" height="114.95" fill="#faebdd"/></pattern><rect x="945.4" y="1342.4" width="537.3" height="427.8" fill="url(#p6)"/><text class="a" text-anchor="middle" transform="translate(1012.56 1404.88) scale(1.0 1.04)" font-size="34.5">100.0%</text><text class="a w" text-anchor="middle" transform="translate(1146.89 1404.88) scale(1.0 1.04)" font-size="34.5">1.1%</text><text class="a w" text-anchor="middle" transform="translate(1281.21 1404.88) scale(1.0 1.04)" font-size="34.5">0.0%</text><text class="a w" text-anchor="middle" transform="translate(1415.54 1404.88) scale(1.0 1.04)" font-size="34.5">0.0%</text><text class="a w" text-anchor="middle" transform="translate(1012.56 1511.83) scale(1.0 1.04)" font-size="34.5">0.0%</text><text class="a" text-anchor="middle" transform="translate(1146.89 1511.83) scale(1.0 1.04)" font-size="34.5">98.9%</text><text class="a w" text-anchor="middle" transform="translate(1281.21 1511.83) scale(1.0 1.04)" font-size="34.5">0.0%</text><text class="a w" text-anchor="middle" transform="translate(1415.54 1511.83) scale(1.0 1.04)" font-size="34.5">0.0%</text><text class="a w" text-anchor="middle" transform="translate(1012.56 1618.78) scale(1.0 1.04)" font-size="34.5">0.0%</text><text class="a w" text-anchor="middle" transform="translate(1146.89 1618.78) scale(1.0 1.04)" font-size="34.5">0.0%</text><text class="a" text-anchor="middle" transform="translate(1281.21 1618.78) scale(1.0 1.04)" font-size="34.5">100.0%</text><text class="a w" text-anchor="middle" transform="translate(1415.54 1618.78) scale(1.0 1.04)" font-size="34.5">0.0%</text><text class="a w" text-anchor="middle" transform="translate(1012.56 1725.73) scale(1.0 1.04)" font-size="34.5">0.0%</text><text class="a w" text-anchor="middle" transform="translate(1146.89 1725.73) scale(1.0 1.04)" font-size="34.5">0.0%</text><text class="a w" text-anchor="middle" transform="translate(1281.21 1725.73) scale(1.0 1.04)" font-size="34.5">0.0%</text><text class="a" text-anchor="middle" transform="translate(1415.54 1725.73) scale(1.0 1.04)" font-size="34.5">100.0%</text><rect x="1516.3" y="1342.4" width="21.8" height="427.8" fill="url(#rk)"/><rect x="1538.1" y="1769.6" width="5.1" height="1.2" fill="#262626"/><text class="a t" transform="translate(1547.2 1775.4) scale(1.0 1.04)" font-size="14.67">0.0</text><rect x="1538.1" y="1684.04" width="5.1" height="1.2" fill="#262626"/><text class="a t" transform="translate(1547.2 1689.84) scale(1.0 1.04)" font-size="14.67">0.2</text><rect x="1538.1" y="1598.48" width="5.1" height="1.2" fill="#262626"/><text class="a t" transform="translate(1547.2 1604.28) scale(1.0 1.04)" font-size="14.67">0.4</text><rect x="1538.1" y="1512.92" width="5.1" height="1.2" fill="#262626"/><text class="a t" transform="translate(1547.2 1518.72) scale(1.0 1.04)" font-size="14.67">0.6</text><rect x="1538.1" y="1427.36" width="5.1" height="1.2" fill="#262626"/><text class="a t" transform="translate(1547.2 1433.16) scale(1.0 1.04)" font-size="14.67">0.8</text><rect x="1538.1" y="1341.8" width="5.1" height="1.2" fill="#262626"/><text class="a t" transform="translate(1547.2 1347.6) scale(1.0 1.04)" font-size="14.67">1.0</text><text transform="translate(899.44 1333.8)"><tspan class="a" x="0" y="0" font-size="29.26">(f) Temperature 550 </tspan><tspan class="mi" x="268.33" y="-10.6" font-size="20.57">o</tspan><tspan class="mi" x="280.91" y="0" font-size="28.97">C</tspan><tspan class="a" x="301.14" y="0" font-size="29.26"> ; Algorithm: ANN - 10 HL</tspan></text><text transform="translate(985.32 1802)"><tspan class="mi" x="0" y="0" font-size="29.04">CH</tspan><tspan class="mr" x="42.71" y="4.5" font-size="20.62">4</tspan></text><text class="a" x="982.44" y="1833.7" font-size="29.33">Only</text><text class="a" transform="translate(1125.48 1801.3) scale(1 1.03)" font-size="29.33">NG</text><text class="a" x="1130.69" y="1832.1" font-size="29.33">Lo</text><text class="a" transform="translate(1259.81 1801.3) scale(1 1.03)" font-size="29.33">NG</text><text class="a" x="1267.85" y="1832.1" font-size="29.33">Hi</text><text transform="translate(1388.29 1802)"><tspan class="mi" x="0" y="0" font-size="29.04">CH</tspan><tspan class="mr" x="42.71" y="4.5" font-size="20.62">4</tspan></text><text transform="translate(1378.28 1833.4)"><tspan class="a" x="1.25" y="-0.3" font-size="26.98">+</tspan><tspan class="mi" x="17.73" y="0" font-size="29.04">NH</tspan><tspan class="mr" x="61.88" y="4.5" font-size="20.62">3</tspan></text><text transform="translate(1145.44 1866.1)"><tspan class="a" x="0" y="0" font-size="29.1">T</tspan><tspan class="a" x="16.18" y="0" font-size="29.1">rue Label</tspan></text><g transform="translate(945.4 1395.88) rotate(-90)"><text transform="translate(-25.07 -48)"><tspan class="mi" x="0" y="0" font-size="29.04">CH</tspan><tspan class="mr" x="42.71" y="5.5" font-size="20.62">4</tspan></text><text class="a" x="-32.35" y="-14.6" font-size="29.33">Only</text></g><g transform="translate(945.4 1502.83) rotate(-90)"><text class="a" transform="translate(-24.2 -44.4) scale(1 1.03)" font-size="29.33">NG</text><text class="a" x="-13.19" y="-14.6" font-size="29.33">Lo</text></g><g transform="translate(945.4 1609.78) rotate(-90)"><text class="a" transform="translate(-24.2 -44.4) scale(1 1.03)" font-size="29.33">NG</text><text class="a" x="-8.72" y="-14.6" font-size="29.33">Hi</text></g><g transform="translate(945.4 1716.73) rotate(-90)"><text transform="translate(-19.07 -48)"><tspan class="mi" x="0" y="0" font-size="29.04">CH</tspan><tspan class="mr" x="42.71" y="5.5" font-size="20.62">4</tspan></text><text transform="translate(-37.75 -15.7)"><tspan class="a" x="1.25" y="-0.3" font-size="26.98">+</tspan><tspan class="mi" x="17.73" y="0" font-size="29.04">NH</tspan><tspan class="mr" x="61.88" y="5.5" font-size="20.62">3</tspan></text></g><g transform="translate(945.4 1556.8) rotate(-90)"><text class="a" x="-101.68" y="-80.4" font-size="29.2">Predicted Label</text></g></g>
</svg>
</body></html>
